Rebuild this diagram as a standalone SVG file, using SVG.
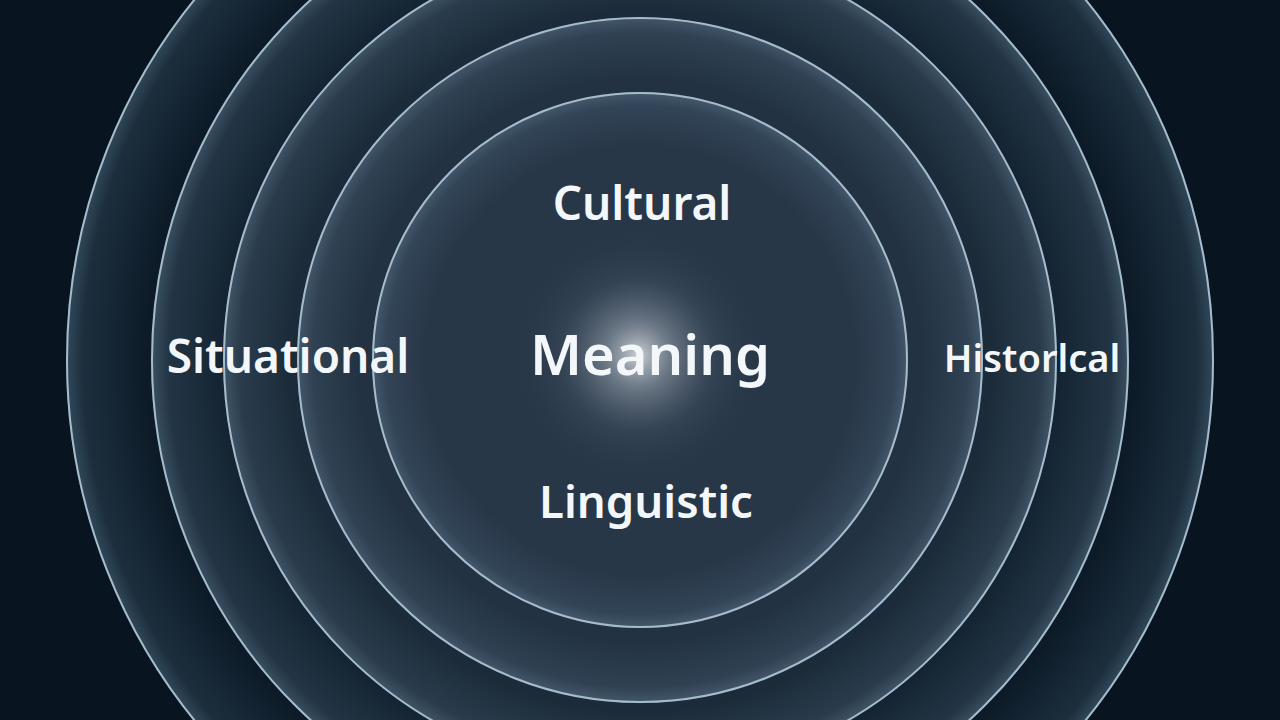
<svg xmlns="http://www.w3.org/2000/svg" width="1280" height="720" viewBox="0 0 1280 720">
  <defs>
    <radialGradient id="g5" cx="0.5" cy="0.5" r="0.5">
      <stop offset="0" stop-color="#0b1925"/>
      <stop offset="0.86" stop-color="#0d1b28"/>
      <stop offset="0.97" stop-color="#1c2e3d"/>
      <stop offset="1" stop-color="#32495a"/>
    </radialGradient>
    <radialGradient id="g4" cx="0.5" cy="0.5" r="0.5">
      <stop offset="0" stop-color="#12212f"/>
      <stop offset="0.85" stop-color="#132331"/>
      <stop offset="0.965" stop-color="#233545"/>
      <stop offset="1" stop-color="#3a5061"/>
    </radialGradient>
    <radialGradient id="g3" cx="0.5" cy="0.5" r="0.5">
      <stop offset="0" stop-color="#1a2938"/>
      <stop offset="0.84" stop-color="#1b2b3a"/>
      <stop offset="0.96" stop-color="#2a3c4c"/>
      <stop offset="1" stop-color="#405566"/>
    </radialGradient>
    <radialGradient id="g2" cx="0.5" cy="0.5" r="0.5">
      <stop offset="0" stop-color="#213142"/>
      <stop offset="0.82" stop-color="#223243"/>
      <stop offset="0.955" stop-color="#2f4152"/>
      <stop offset="1" stop-color="#44576a"/>
    </radialGradient>
    <radialGradient id="g1" cx="0.5" cy="0.5" r="0.5">
      <stop offset="0" stop-color="#283748"/>
      <stop offset="0.8" stop-color="#283748"/>
      <stop offset="0.95" stop-color="#324457"/>
      <stop offset="1" stop-color="#46586b"/>
    </radialGradient>
    <radialGradient id="glow" cx="0.5" cy="0.5" r="0.5">
      <stop offset="0" stop-color="#ffffff" stop-opacity="0.75"/>
      <stop offset="0.25" stop-color="#c9d3dc" stop-opacity="0.42"/>
      <stop offset="0.6" stop-color="#7f8fa0" stop-opacity="0.13"/>
      <stop offset="1" stop-color="#283748" stop-opacity="0"/>
    </radialGradient>
    <filter id="soft" x="-5%" y="-5%" width="110%" height="110%">
      <feGaussianBlur stdDeviation="0.7"/>
    </filter>
  </defs>
  <style>
    .ring { fill: none; stroke: #a4bccb; stroke-width: 2; filter: url(#soft); }
    .lbl { font-family: "Noto Sans", "Open Sans", "DejaVu Sans", sans-serif; font-weight: 600; fill: #f4f7fa; text-anchor: middle; }
  </style>
  <rect width="1280" height="720" fill="#08141f"/>
  <g id="ring5">
    <circle cx="640" cy="360" r="574" fill="url(#g5)"/>
    <circle class="ring" cx="640" cy="360" r="573"/>
  </g>
  <g id="ring4">
    <circle cx="640" cy="360" r="489" fill="url(#g4)"/>
    <circle class="ring" cx="640" cy="360" r="488"/>
  </g>
  <g id="ring3">
    <circle cx="640" cy="360" r="417" fill="url(#g3)"/>
    <circle class="ring" cx="640" cy="360" r="416"/>
  </g>
  <g id="ring2">
    <circle cx="640" cy="360" r="343" fill="url(#g2)"/>
    <circle class="ring" cx="640" cy="360" r="342"/>
  </g>
  <g id="ring1">
    <circle cx="640" cy="360" r="268" fill="url(#g1)"/>
    <circle class="ring" cx="640" cy="360" r="267"/>
  </g>
  <g id="center-glow">
    <circle cx="638" cy="355" r="130" fill="url(#glow)"/>
  </g>
  <g id="labels">
    <text id="meaning" class="lbl" x="650" y="375" font-size="56">Meaning</text>
    <text id="cultural" class="lbl" x="642" y="220" font-size="46">Cultural</text>
    <text id="linguistic" class="lbl" x="646" y="518" font-size="45.5">Linguistic</text>
    <text id="situational" class="lbl" x="288" y="373" font-size="46">Situational</text>
    <text id="historical" class="lbl" x="1032" y="372" font-size="38">Historlcal</text>
  </g>
</svg>
